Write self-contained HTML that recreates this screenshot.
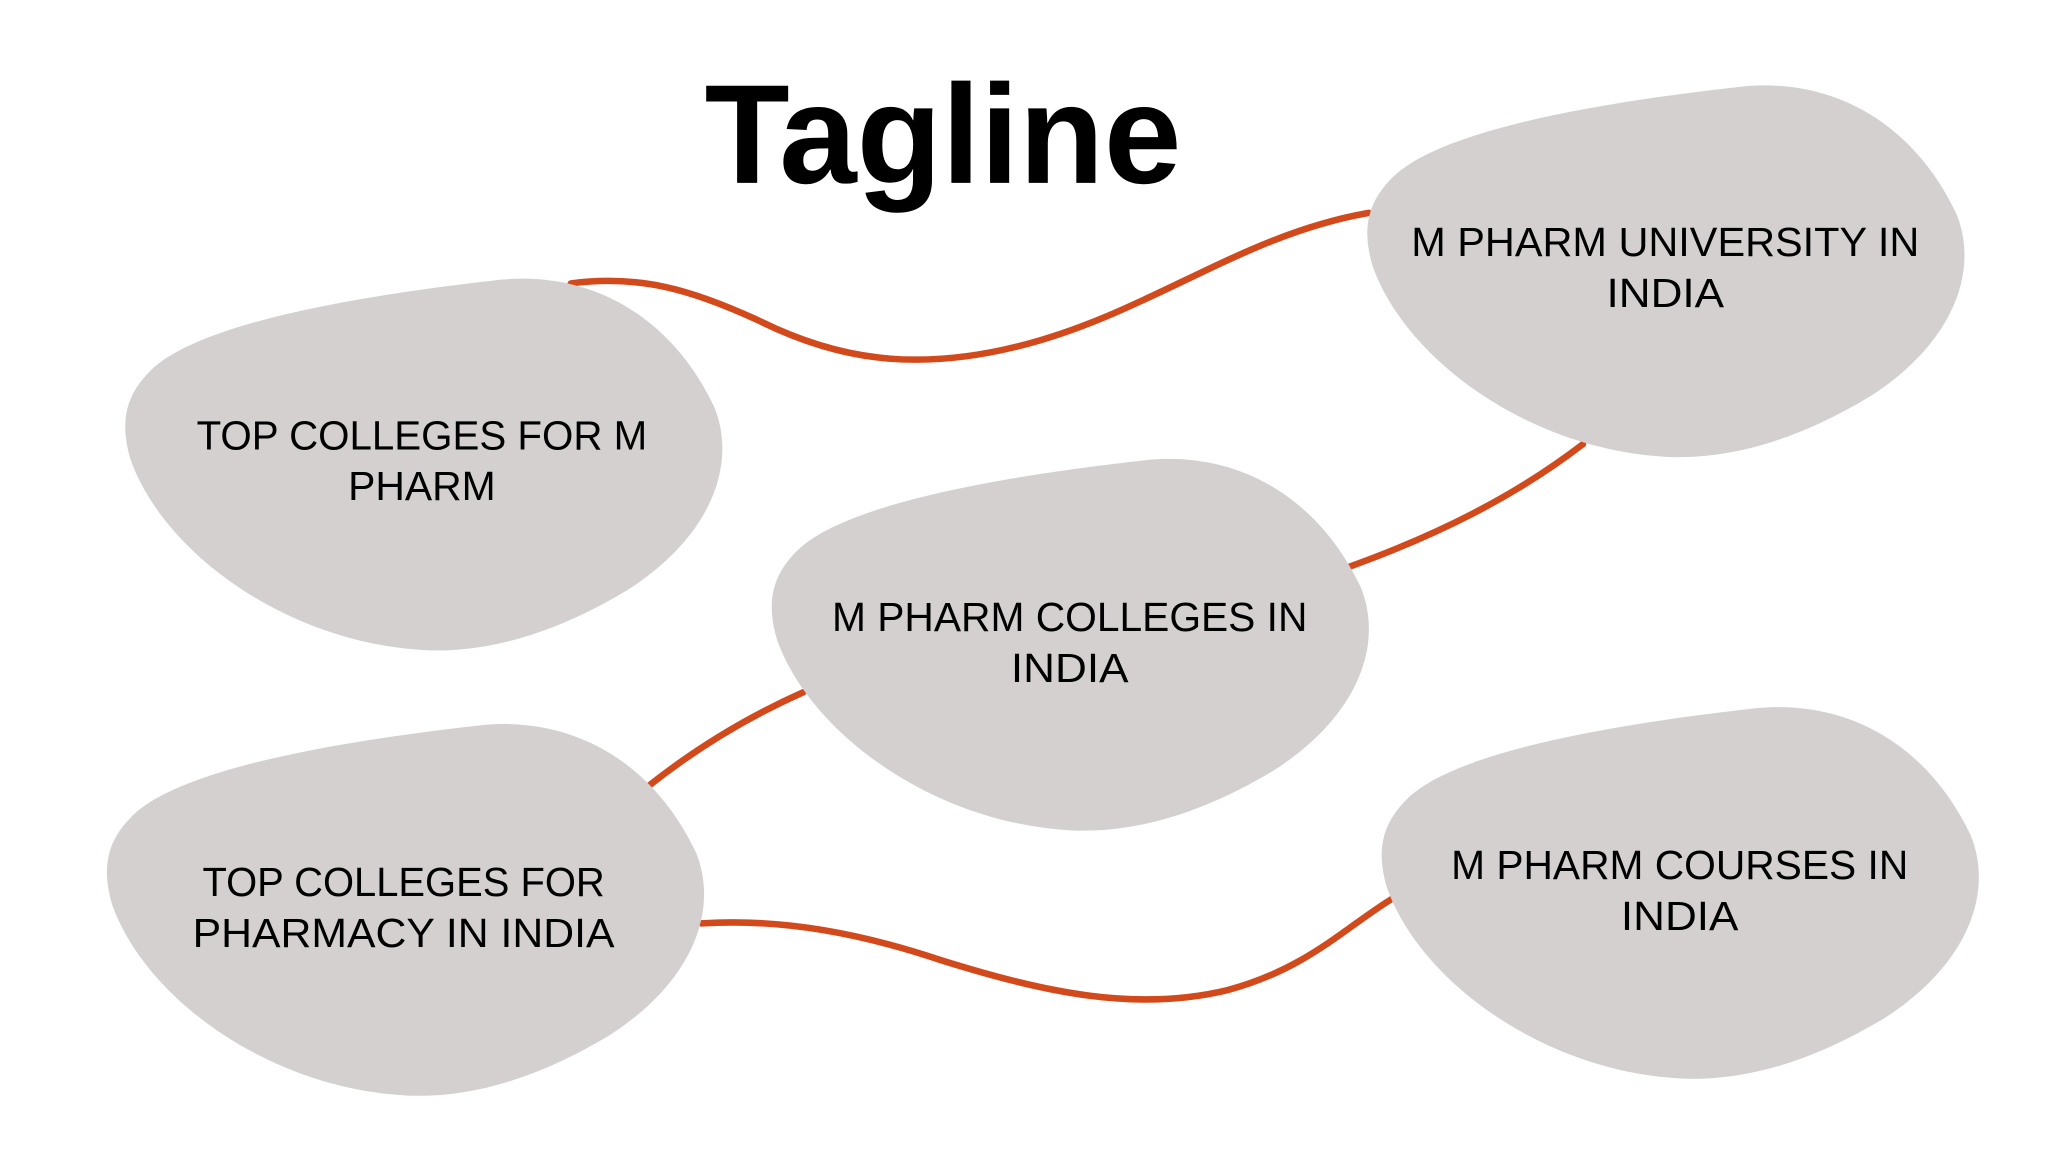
<!DOCTYPE html>
<html><head><meta charset="utf-8"><style>
html,body{margin:0;padding:0;background:#fff;width:2048px;height:1152px;overflow:hidden}
svg{display:block}
text{font-family:"Liberation Sans",sans-serif;fill:#000}
</style></head><body>
<svg width="2048" height="1152" viewBox="0 0 1568 882" preserveAspectRatio="none">
<defs>
<path id="b" d="M20,72 C60,32 200,12 290,2 C360,-4 420,32 452,100 C470,145 448,200 385,240 C325,276 270,290 220,285 C120,276 30,210 5,140 C-4,110 2,90 20,72 Z" fill="#d3d0cf"/>
</defs>
<g fill="none" stroke="#d24a1c" stroke-width="5" stroke-linecap="round">
<path d="M437,217 C490,210 530,222 580,245 C640,275 700,285 780,265 C880,240 950,180 1048,163"/>
<path d="M1212,340 C1160,380 1100,410 1030,435"/>
<path d="M615,530 C570,550 530,575 495,603"/>
<path d="M537,707 C600,703 660,715 720,735 C800,760 870,775 940,758 C1000,742 1030,710 1066,688"/>
</g>
<use href="#b" transform="translate(95,212)"/>
<use href="#b" transform="translate(1046,64)"/>
<use href="#b" transform="translate(590,350)"/>
<use href="#b" transform="translate(81,553)"/>
<use href="#b" transform="translate(1057,540)"/>
<text x="722" y="140" text-anchor="middle" font-size="108" font-weight="bold" textLength="365" lengthAdjust="spacingAndGlyphs">Tagline</text>
<g font-size="31" text-anchor="middle">
<text x="323" y="344" textLength="345" lengthAdjust="spacingAndGlyphs">TOP COLLEGES FOR M</text>
<text x="323" y="383" textLength="113" lengthAdjust="spacingAndGlyphs">PHARM</text>
<text x="1275" y="196" textLength="389" lengthAdjust="spacingAndGlyphs">M PHARM UNIVERSITY IN</text>
<text x="1275" y="235" textLength="90" lengthAdjust="spacingAndGlyphs">INDIA</text>
<text x="819" y="483" textLength="364" lengthAdjust="spacingAndGlyphs">M PHARM COLLEGES IN</text>
<text x="819" y="522" textLength="90" lengthAdjust="spacingAndGlyphs">INDIA</text>
<text x="309" y="686" textLength="308" lengthAdjust="spacingAndGlyphs">TOP COLLEGES FOR</text>
<text x="309" y="725" textLength="323" lengthAdjust="spacingAndGlyphs">PHARMACY IN INDIA</text>
<text x="1286" y="673" textLength="350" lengthAdjust="spacingAndGlyphs">M PHARM COURSES IN</text>
<text x="1286" y="712" textLength="90" lengthAdjust="spacingAndGlyphs">INDIA</text>
</g>
</svg>
</body></html>
